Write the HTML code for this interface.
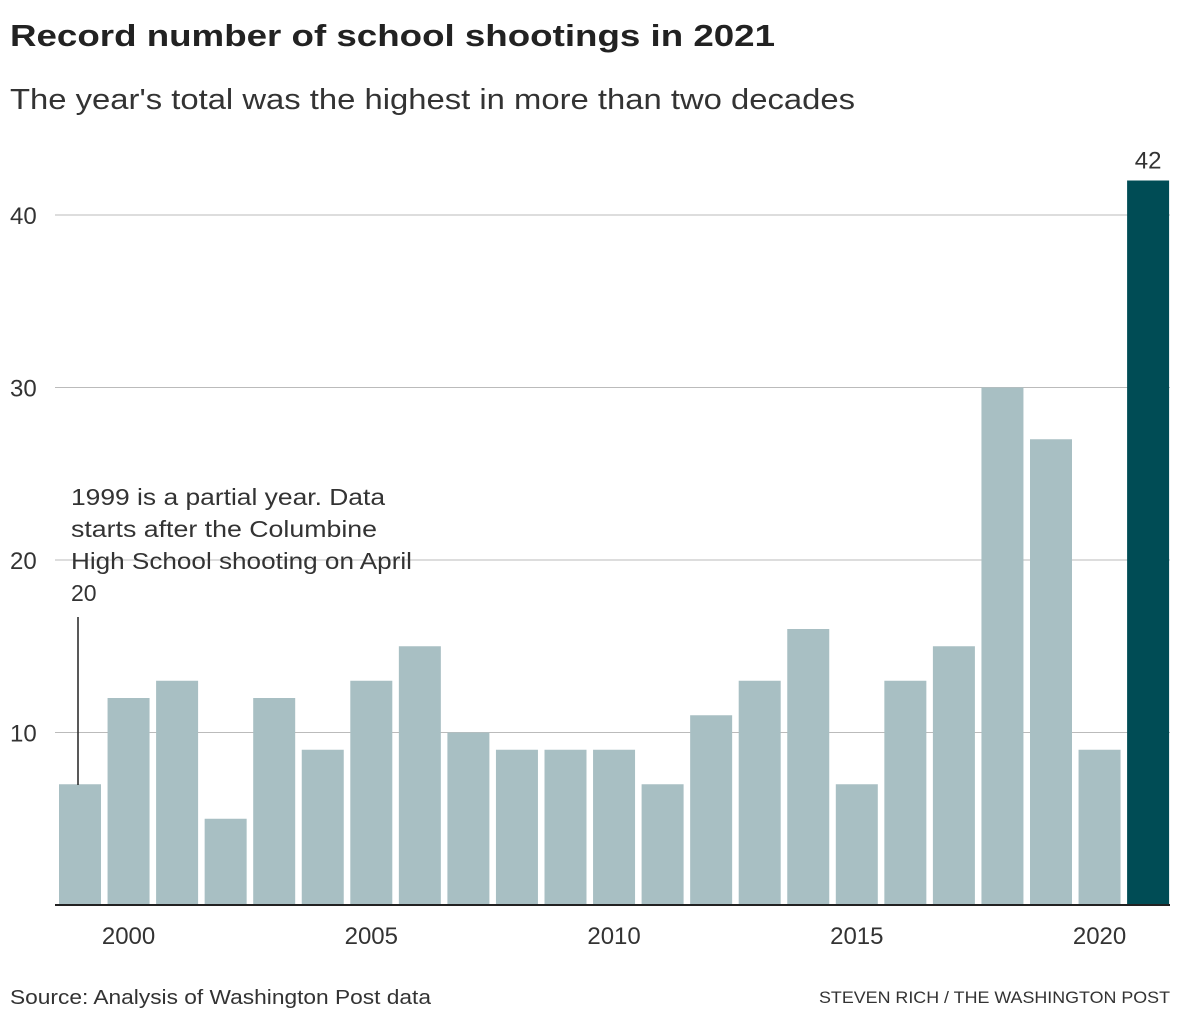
<!DOCTYPE html>
<html><head><meta charset="utf-8"><style>
body{margin:0;background:#fff;width:1180px;height:1020px;overflow:hidden;font-family:"Liberation Sans",sans-serif;}
</style></head><body>
<svg width="1180" height="1020">
<text x="10" y="46" font-size="31" font-weight="bold" fill="#222" textLength="765" lengthAdjust="spacingAndGlyphs">Record number of school shootings in 2021</text>
<text x="10" y="109" font-size="29" fill="#333" textLength="845" lengthAdjust="spacingAndGlyphs">The year's total was the highest in more than two decades</text>
<g id="grid"></g>
<g id="bars"></g>
<line x1="55" x2="1170" y1="905" y2="905" stroke="#222" stroke-width="2"/>
<g id="xt"></g>
<line x1="78" x2="78" y1="617" y2="785" stroke="#222" stroke-width="1.5"/>
<text font-size="23" fill="#333">
<tspan x="71" y="505" textLength="314" lengthAdjust="spacingAndGlyphs">1999 is a partial year. Data</tspan>
<tspan x="71" y="537" textLength="306" lengthAdjust="spacingAndGlyphs">starts after the Columbine</tspan>
<tspan x="71" y="569" textLength="341" lengthAdjust="spacingAndGlyphs">High School shooting on April</tspan>
<tspan x="71" y="601">20</tspan></text>
<text x="10" y="1004" font-size="20" fill="#333" textLength="421" lengthAdjust="spacingAndGlyphs">Source: Analysis of Washington Post data</text>
<text x="819" y="1003" font-size="17" fill="#333" textLength="351" lengthAdjust="spacingAndGlyphs">STEVEN RICH / THE WASHINGTON POST</text>
</svg>
<script>
const years=[1999,2000,2001,2002,2003,2004,2005,2006,2007,2008,2009,2010,2011,2012,2013,2014,2015,2016,2017,2018,2019,2020,2021];
const values=[7,12,13,5,12,9,13,15,10,9,9,9,7,11,13,16,7,13,15,30,27,9,42];
const yTicks=[10,20,30,40];
const xTicks=[2000,2005,2010,2015,2020];
const NS='http://www.w3.org/2000/svg';
const y=v=>905-v*17.25;
const x=yr=>59+(yr-1999)*48.55;
const bw=42;
function mk(t,a,p){const e=document.createElementNS(NS,t);for(const k in a)e.setAttribute(k,a[k]);document.getElementById(p).appendChild(e);return e;}
yTicks.forEach(v=>{
 const l=mk('line',{x1:55,x2:1170,y1:y(v),y2:y(v),stroke:'#bbb','stroke-width':1},'grid');
 
 
 const t=mk('text',{x:10,y:y(v)+9,'font-size':24,fill:'#333'},'grid');t.textContent=v;
 
 
});
years.forEach((yr,i)=>{
 const last=i===years.length-1;
 const r=mk('rect',{x:x(yr),y:y(values[i]),width:bw,height:905-y(values[i]),fill:last?'#004c55':'#a8bfc3'},'bars');
 
 
 if(last){const t=mk('text',{x:x(yr)+bw/2,y:y(values[i])-12,'font-size':24,fill:'#333','text-anchor':'middle'},'bars');t.textContent=values[i];
 
 }
});
xTicks.forEach(yr=>{
 const t=mk('text',{x:x(yr)+bw/2,y:944,'font-size':24,fill:'#333','text-anchor':'middle'},'xt');t.textContent=yr;
 
 
});
</script>
</body></html>
